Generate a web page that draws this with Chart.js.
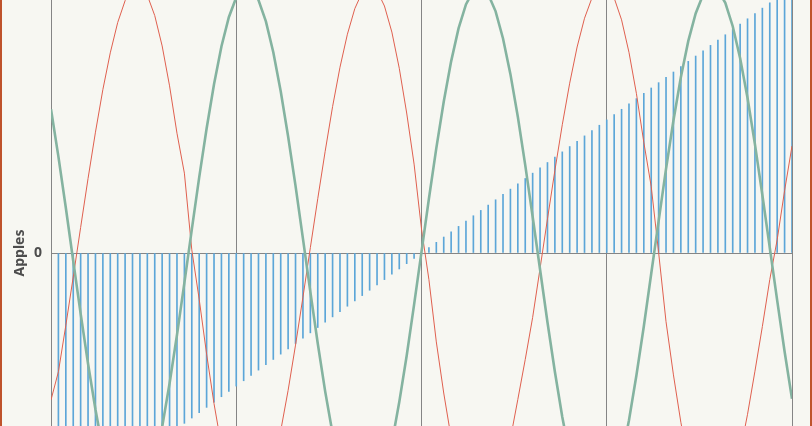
<!DOCTYPE html>
<html>
<head>
<meta charset="utf-8">
<title>Apples</title>
<script src="https://cdn.jsdelivr.net/npm/chart.js@4.4.1/dist/chart.umd.min.js"></script>
<style>
  html, body { margin: 0; padding: 0; overflow: hidden; background: #f7f7f2; }
  #wrap { width: 812px; height: 426px; overflow: hidden; position: relative; }
  #myChart { position: absolute; left: 0; top: -27px; }
</style>
</head>
<body>
<div id="wrap"><canvas id="myChart" width="812" height="560"></canvas></div>
<script>
// x positions of the samples (lines use all of them, bars start at 1)
var xValues = [0, 1, 2, 3, 4, 5, 6, 7, 8, 9, 10, 11, 12, 13, 14, 15, 16, 17, 18, 19, 20,
  21, 22, 23, 24, 25, 26, 27, 28, 29, 30, 31, 32, 33, 34, 35, 36, 37, 38, 39, 40,
  41, 42, 43, 44, 45, 46, 47, 48, 49, 50, 51, 52, 53, 54, 55, 56, 57, 58, 59, 60,
  61, 62, 63, 64, 65, 66, 67, 68, 69, 70, 71, 72, 73, 74, 75, 76, 77, 78, 79, 80,
  81, 82, 83, 84, 85, 86, 87, 88, 89, 90, 91, 92, 93, 94, 95, 96, 97, 98, 99, 100];

// bars, x = 1..100
var apples = [-49, -48, -47, -46, -45, -44, -43, -42, -41, -40, -39, -38, -37, -36, -35,
  -34, -33, -32, -31, -30, -29, -28, -27, -26, -25, -24, -23, -22, -21, -20, -19, -18,
  -17, -16, -15, -14, -13, -12, -11, -10, -9, -8, -7, -6, -5, -4, -3, -2, -1, 0,
  1, 2, 3, 4, 5, 6, 7, 8, 9, 10, 11, 12, 13, 14, 15, 16, 17, 18, 19, 20, 21, 22, 23,
  24, 25, 26, 27, 28, 29, 30, 31, 32, 33, 34, 35, 36, 37, 38, 39, 40, 41, 42, 43, 44,
  45, 46, 47, 48, 49, 50];

// thin red line, x = 0..100
var redLine = [-27.6, -22.3, -13.6, -4.5, 4.8, 14.0, 22.7, 30.7, 37.6, 43.3,
  47.4, 49.7, 50.1, 48.4, 44.6, 38.9, 31.4, 22.5, 15.0, 0.6,
  -8.7, -19.0, -28.3, -36.3, -42.7, -47.1, -49.6, -50.0, -48.4, -44.9,
  -39.9, -33.4, -25.8, -17.3, -8.3, 1.0, 10.2, 19.1, 27.5, 34.9,
  41.1, 45.9, 49.0, 50.2, 49.3, 46.4, 41.5, 34.7, 26.3, 16.7,
  4.5, -5.0, -16.7, -26.3, -34.7, -41.5, -46.4, -49.4, -50.2, -49.0,
  -45.9, -41.1, -34.9, -27.5, -20.0, -12.1, -2.9, 6.4, 15.5, 24.1,
  31.9, 38.7, 44.1, 47.9, 49.9, 49.9, 47.9, 43.8, 37.7, 30.0,
  20.8, 12.5, 0.1, -12.9, -22.9, -31.8, -39.2, -44.9, -48.6, -50.2,
  -49.7, -47.3, -43.1, -37.4, -30.3, -22.2, -13.8, -5.0, 2.5, 11.7,
  20.1];

// thick green line, x = 0..100
var greenLine = [27.0, 18.1, 8.5, -1.5, -11.4, -20.8, -29.4, -36.9, -42.8, -47.1,
  -49.5, -49.9, -48.3, -44.8, -39.5, -32.7, -24.5, -15.4, -5.6, 4.4,
  14.2, 23.4, 31.7, 38.8, 44.3, 48.0, 49.8, 49.7, 47.5, 43.5,
  37.7, 30.4, 21.9, 12.6, 2.7, -7.3, -17.0, -26.0, -33.9, -40.6,
  -45.6, -48.7, -50.0, -49.2, -46.5, -42.0, -35.7, -28.0, -19.3, -9.7,
  0.2, 10.2, 19.7, 28.4, 36.0, 42.2, 46.7, 49.3, 50.0, 48.6,
  45.4, 40.3, 33.6, 25.6, 16.5, 6.8, -3.1, -13.0, -22.3, -30.8,
  -38.0, -43.7, -47.6, -49.7, -49.8, -47.9, -44.1, -38.5, -31.4, -23.0,
  -13.8, -3.9, 6.0, 15.8, 24.9, 33.0, 39.8, 45.0, 48.5, 49.9,
  49.4, 47.0, 42.6, 36.6, 29.1, 20.4, 10.9, 1.0, -8.9, -18.5,
  -27.4];

var xTicks = [0, 25, 50, 75, 100];
var yTicks = [0];

function toPoints(values, offset) {
  return values.map(function (v, i) { return { x: xValues[i + offset], y: v }; });
}

// paper colour and the side rules
var frame = {
  id: 'frame',
  beforeDraw: function (chart) {
    var c = chart.ctx;
    c.save();
    c.fillStyle = '#f7f7f2';
    c.fillRect(0, 0, chart.width, chart.height);
    c.restore();
  },
  afterDraw: function (chart) {
    var c = chart.ctx;
    c.save();
    c.fillStyle = '#bf532c';
    c.fillRect(0, 0, 2, chart.height);
    c.fillRect(chart.width - 2, 0, 2, chart.height);
    c.restore();
  }
};

Chart.defaults.font.family = '"Noto Sans", "DejaVu Sans", sans-serif';

var ctx = document.getElementById('myChart').getContext('2d');

var myChart = new Chart(ctx, {
  type: 'bar',
  data: {
    datasets: [{
      type: 'line',
      label: 'Green',
      data: toPoints(greenLine, 0),
      borderColor: '#84b3a0',
      borderWidth: 2.6,
      pointRadius: 0,
      pointHoverRadius: 0,
      tension: 0,
      order: 0
    },
    {
      type: 'line',
      label: 'Red',
      data: toPoints(redLine, 0),
      borderColor: '#e0604f',
      borderWidth: 1,
      pointRadius: 0,
      pointHoverRadius: 0,
      tension: 0,
      order: 1
    },
    {
      type: 'bar',
      label: 'Apples',
      data: toPoints(apples, 1),
      backgroundColor: '#5ca6d8',
      borderWidth: 0,
      barThickness: 1,
      order: 2
    }]
  },
  options: {
    responsive: false,
    animation: false,
    devicePixelRatio: 1,
    layout: { autoPadding: false, padding: { left: 0, right: 20, top: 0, bottom: 0 } },
    plugins: {
      legend: { display: false },
      tooltip: { enabled: false }
    },
    scales: {
      x: {
        type: 'linear',
        min: 0,
        max: 100,
        offset: false,
        afterBuildTicks: function (axis) {
          axis.ticks = xTicks.map(function (v) { return { value: v }; });
        },
        ticks: { display: false },
        grid: { color: '#858585', lineWidth: 1, drawTicks: false, offset: false },
        border: { display: false }
      },
      y: {
        min: -52.6,
        max: 52.6,
        afterBuildTicks: function (axis) {
          axis.ticks = yTicks.map(function (v) { return { value: v }; });
        },
        afterFit: function (axis) {
          // fixed gutter, and no label padding above/below the plot
          axis.width = 51;
          axis.paddingTop = 0;
          axis.paddingBottom = 0;
        },
        ticks: {
          color: '#4d4d4d',
          padding: 9,
          font: { size: 14, weight: 'bold' }
        },
        grid: { color: '#858585', lineWidth: 1, drawTicks: false },
        border: { display: true, color: '#858585' },
        title: {
          display: true,
          text: 'Apples',
          color: '#4d4d4d',
          padding: { top: 12, bottom: 0 },
          font: { size: 14, weight: 'bold' }
        }
      }
    }
  },
  plugins: [frame]
});
</script>
</body>
</html>
